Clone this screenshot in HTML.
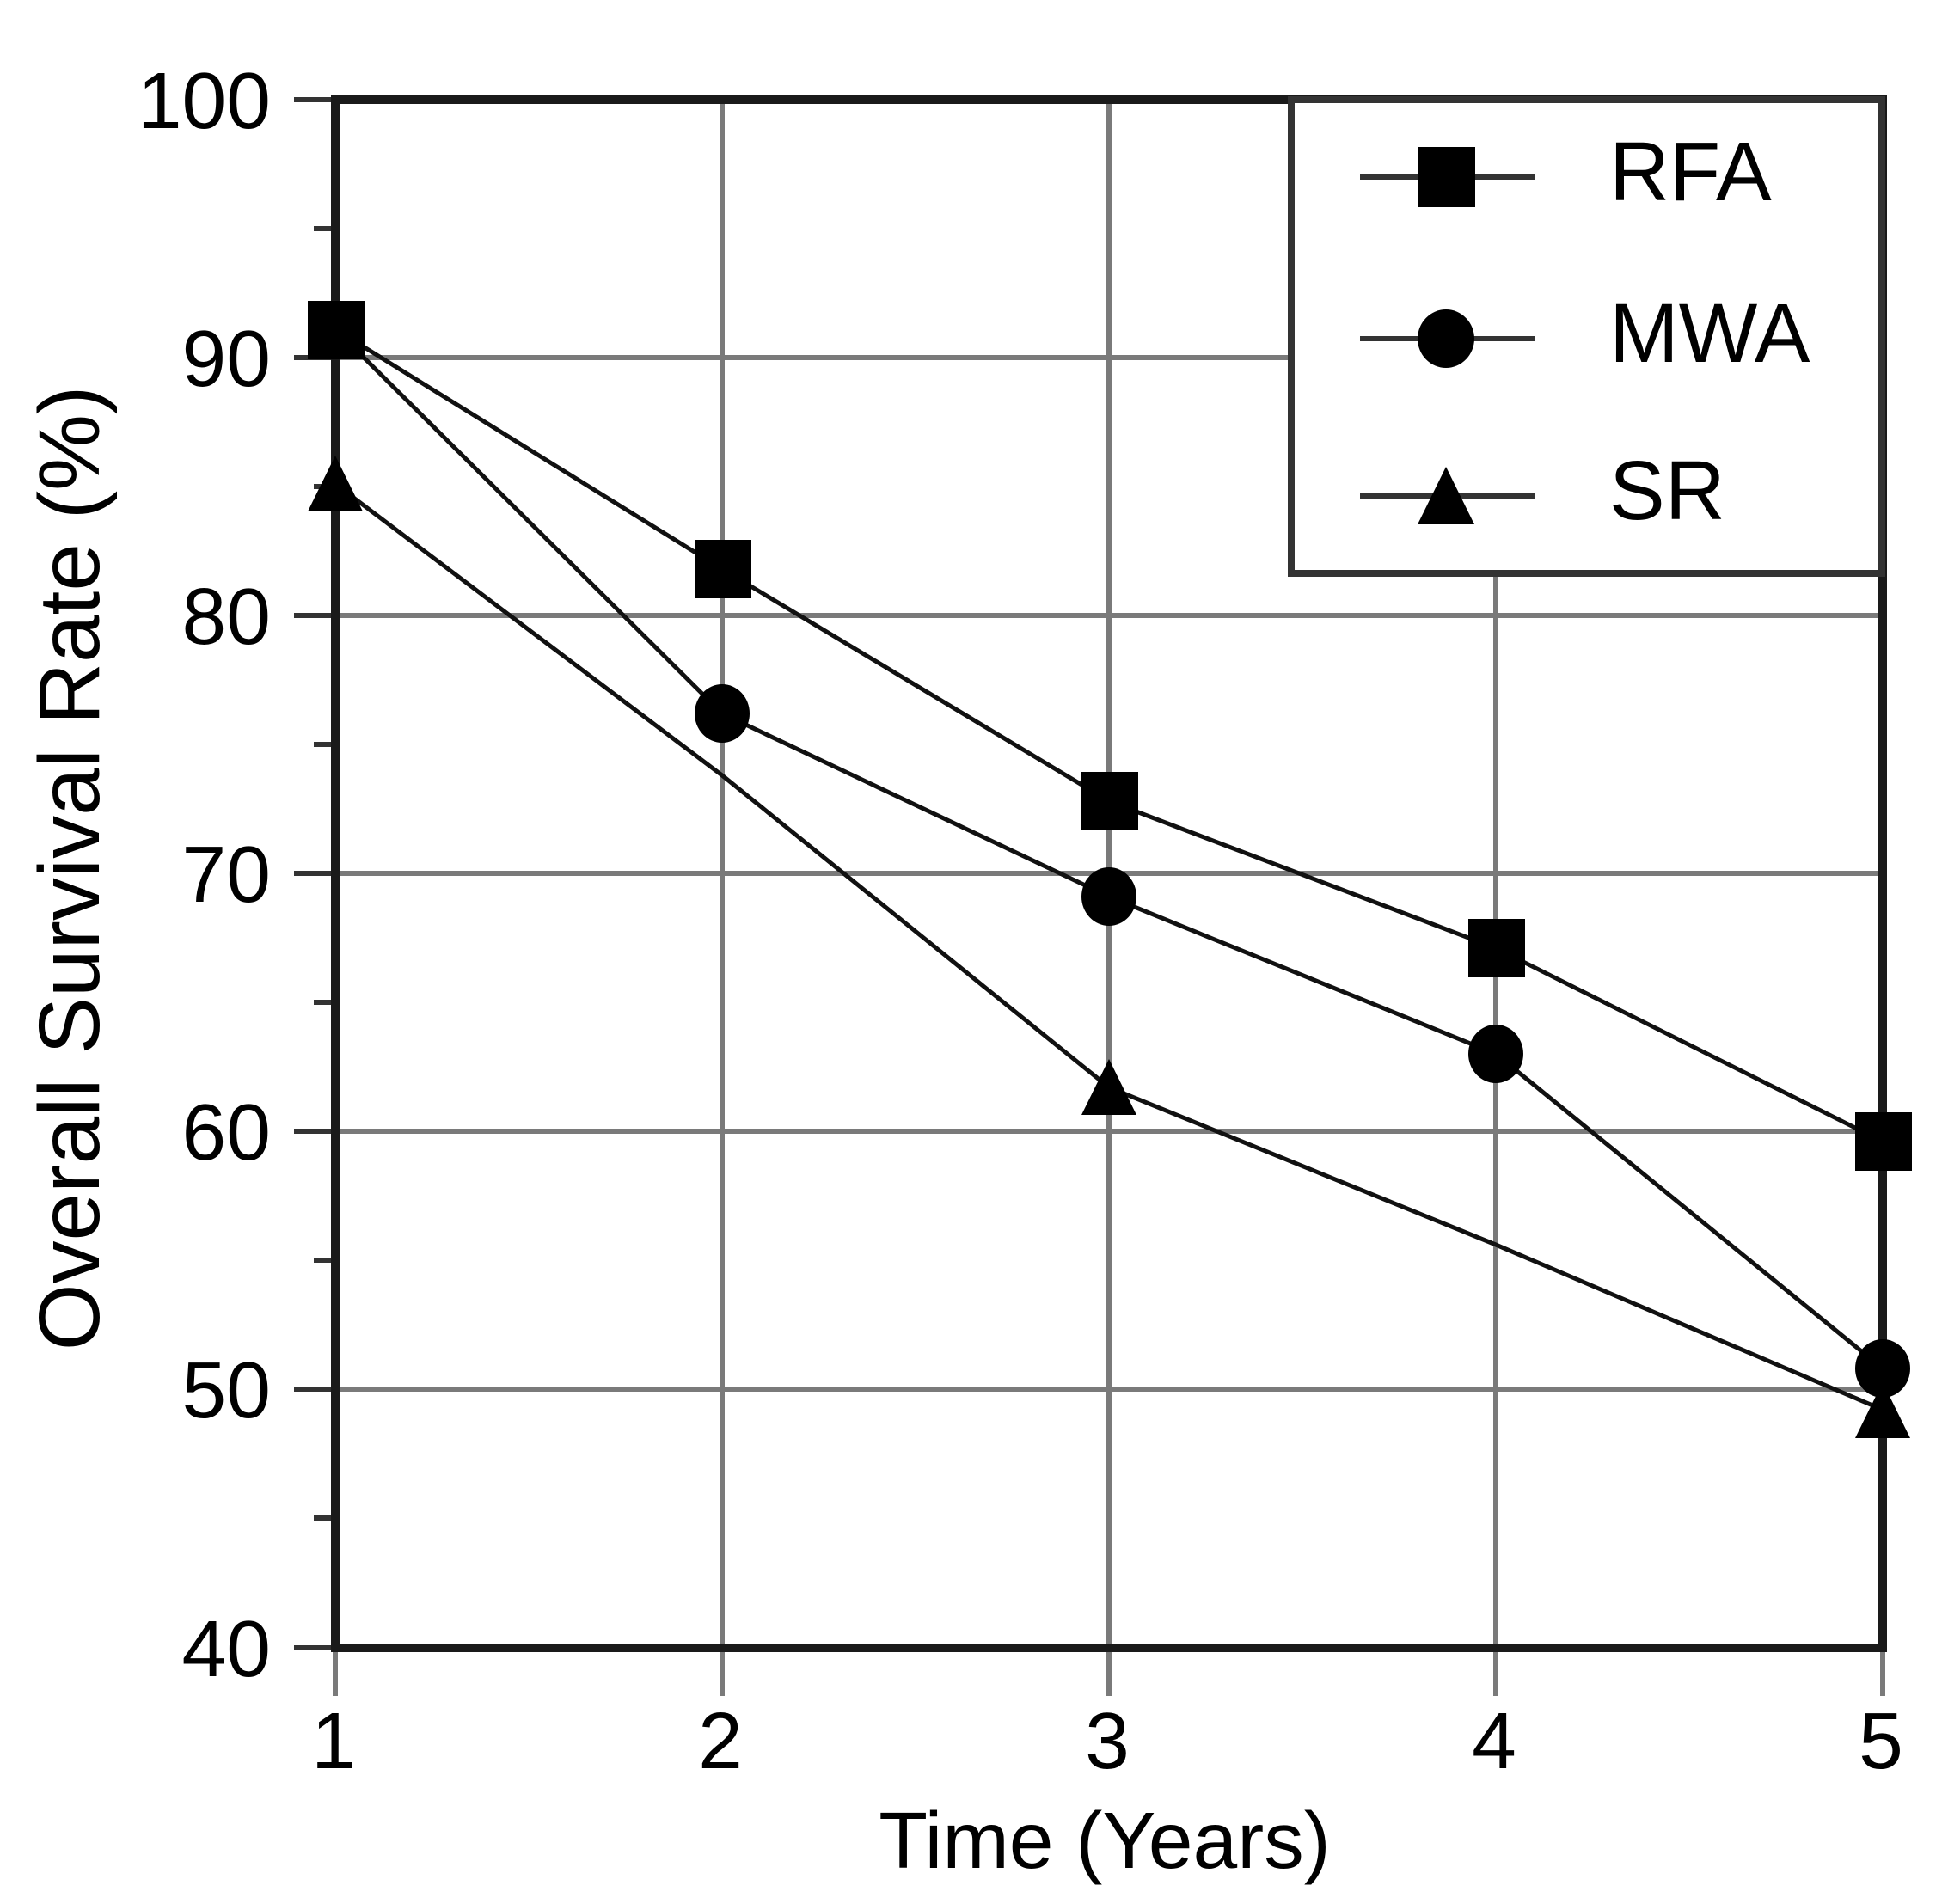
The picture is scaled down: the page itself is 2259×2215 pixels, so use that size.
<!DOCTYPE html>
<html><head><meta charset="utf-8"><style>
html,body{margin:0;padding:0;background:#fff;}
svg{display:block;}
text{font-family:"Liberation Sans",Arial,sans-serif;fill:#000;}
</style></head><body>
<svg width="2259" height="2215" viewBox="0 0 2259 2215" xmlns="http://www.w3.org/2000/svg">
<!-- grid -->
<g stroke="#7a7a7a" stroke-width="6">
<line x1="390" y1="416" x2="2190" y2="416"/>
<line x1="390" y1="716" x2="2190" y2="716"/>
<line x1="390" y1="1016" x2="2190" y2="1016"/>
<line x1="390" y1="1316" x2="2190" y2="1316"/>
<line x1="390" y1="1616" x2="2190" y2="1616"/>
<line x1="840" y1="116" x2="840" y2="1973"/>
<line x1="1290" y1="116" x2="1290" y2="1973"/>
<line x1="1740" y1="116" x2="1740" y2="1973"/>
<line x1="2190" y1="116" x2="2190" y2="1973"/>
<line x1="390" y1="1917" x2="390" y2="1973"/>
</g>
<!-- y ticks -->
<g stroke="#333" stroke-width="6">
<line x1="342" y1="116" x2="390" y2="116"/>
<line x1="342" y1="416" x2="390" y2="416"/>
<line x1="342" y1="716" x2="390" y2="716"/>
<line x1="342" y1="1016" x2="390" y2="1016"/>
<line x1="342" y1="1316" x2="390" y2="1316"/>
<line x1="342" y1="1616" x2="390" y2="1616"/>
<line x1="342" y1="1917" x2="390" y2="1917"/>
<line x1="365" y1="266" x2="390" y2="266"/>
<line x1="365" y1="566" x2="390" y2="566"/>
<line x1="365" y1="866" x2="390" y2="866"/>
<line x1="365" y1="1166" x2="390" y2="1166"/>
<line x1="365" y1="1466" x2="390" y2="1466"/>
<line x1="365" y1="1766" x2="390" y2="1766"/>
</g>
<!-- axes frame -->
<rect x="390" y="116" width="1800" height="1801" fill="none" stroke="#1a1a1a" stroke-width="10"/>
<!-- legend -->
<rect x="1502" y="116" width="687" height="551" fill="#fff" stroke="#333" stroke-width="8"/>
<g stroke="#333" stroke-width="6">
<line x1="1582" y1="206" x2="1785" y2="206"/>
<line x1="1582" y1="394" x2="1785" y2="394"/>
<line x1="1582" y1="577" x2="1785" y2="577"/>
</g>
<rect x="1649" y="171" width="67" height="70" fill="#000"/>
<ellipse cx="1682" cy="394" rx="33" ry="34" fill="#000"/>
<polygon points="1682,543 1649,610 1715,610" fill="#000"/>
<g font-size="97">
<text x="1872" y="233">RFA</text>
<text x="1872" y="421">MWA</text>
<text x="1872" y="604">SR</text>
</g>
<!-- series -->
<g fill="none" stroke="#111" stroke-width="5">
<polyline points="390,383 840,662 1290,932 1740,1103 2190,1328"/>
<polyline points="390,383 840,830 1290,1043 1740,1226 2190,1592"/>
<polyline points="390,563 840,902 1290,1265 1740,1448 2190,1640"/>
</g>
<g fill="#000">
<rect x="358" y="350" width="66" height="68"/>
<rect x="808" y="628" width="66" height="68"/>
<rect x="1258" y="898" width="66" height="68"/>
<rect x="1708" y="1069" width="66" height="68"/>
<rect x="2158" y="1294" width="66" height="68"/>
<ellipse cx="840" cy="830" rx="32" ry="34"/>
<ellipse cx="1290" cy="1043" rx="32" ry="34"/>
<ellipse cx="1740" cy="1226" rx="32" ry="34"/>
<ellipse cx="2190" cy="1592" rx="32" ry="34"/>
<polygon points="390,530 358,595 422,595"/>
<polygon points="1290,1232 1258,1297 1322,1297"/>
<polygon points="2190,1608 2158,1673 2222,1673"/>
</g>
<!-- tick labels -->
<g font-size="93" text-anchor="end">
<text x="315" y="149">100</text>
<text x="315" y="449">90</text>
<text x="315" y="749">80</text>
<text x="315" y="1049">70</text>
<text x="315" y="1349">60</text>
<text x="315" y="1649">50</text>
<text x="315" y="1950">40</text>
</g>
<g font-size="93" text-anchor="middle">
<text x="388" y="2057">1</text>
<text x="838" y="2057">2</text>
<text x="1288" y="2057">3</text>
<text x="1738" y="2057">4</text>
<text x="2188" y="2057">5</text>
</g>
<text x="1285" y="2173" font-size="93" text-anchor="middle">Time (Years)</text>
<text transform="translate(115,1010) rotate(-90)" font-size="100" text-anchor="middle">Overall Survival Rate (%)</text>
</svg>
</body></html>
